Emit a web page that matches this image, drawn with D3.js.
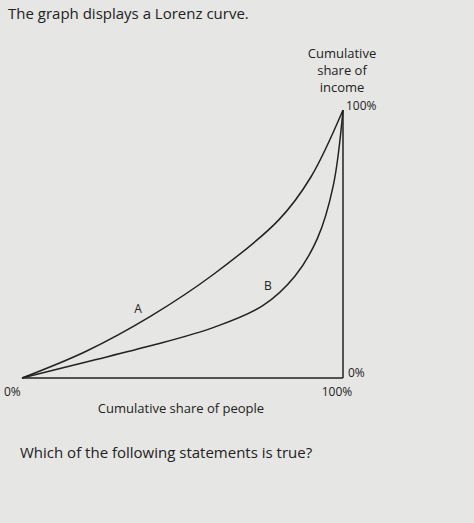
<!DOCTYPE html>
<html>
<head>
<meta charset="utf-8">
<style>
  body { margin: 0; background: #e6e6e4; }
  svg { display: block; font-family: "Open Sans", "DejaVu Sans", sans-serif; }
</style>
</head>
<body>
<main></main>
<script src="https://cdn.jsdelivr.net/npm/d3@7"></script>
<script>
    // data ==========================
    var curveAx = [0, 20, 40, 60, 80, 90, 100];
    var curveAy = [0, 10, 23, 39, 59, 75, 100];
    var curveBx = [0, 20, 40, 60, 75, 85, 92, 97, 100];
    var curveBy = [0, 6, 12, 19, 27, 38, 52, 72, 100];

    var width = 474, height = 523;
    var svg = d3.select("main").append("svg")
        .attr("width", width).attr("height", height);

    var x = d3.scaleLinear().domain([0, 100]).range([22, 343]);
    var y = d3.scaleLinear().domain([0, 100]).range([378, 110]);

    var line = d3.line()
        .x(function (d) { return x(d[0]); })
        .y(function (d) { return y(d[1]); })
        .curve(d3.curveCatmullRom);

    // axes (bottom + right vertical)
    svg.append("line").attr("x1", x(0)).attr("x2", x(100))
        .attr("y1", y(0)).attr("y2", y(0)).attr("stroke", "#222").attr("stroke-width", 1.5);
    svg.append("line").attr("x1", x(100)).attr("x2", x(100))
        .attr("y1", y(0)).attr("y2", y(100)).attr("stroke", "#222").attr("stroke-width", 1.5);

    // curves
    [[curveAx, curveAy], [curveBx, curveBy]].forEach(function (c) {
        svg.append("path")
            .attr("d", line(c[0].map(function (v, i) { return [v, c[1][i]]; })))
            .attr("fill", "none").attr("stroke", "#222").attr("stroke-width", 1.5);
    });

    // texts
    var t = function (s, px, py, size, anchor) {
        svg.append("text").attr("x", px).attr("y", py)
            .attr("font-size", size).attr("fill", "#222")
            .attr("text-anchor", anchor || "start").text(s);
    };
    t("The graph displays a Lorenz curve.", 8, 19, 15);
    t("Cumulative", 342, 58, 13, "middle");
    t("share of", 342, 75, 13, "middle");
    t("income", 342, 92, 13, "middle");
    t("100%", x(100) + 3, 110, 12);
    t("0%", x(100) + 5, 377, 12);
    t("100%", x(100) - 6, 396, 12, "middle");
    t("0%", 4, 396, 12);
    t("A", 138, 313, 12, "middle");
    t("B", 268, 290, 12, "middle");
    t("Cumulative share of people", 181, 413, 13, "middle");
    t("Which of the following statements is true?", 20, 458, 15);
</script>
</body>
</html>
